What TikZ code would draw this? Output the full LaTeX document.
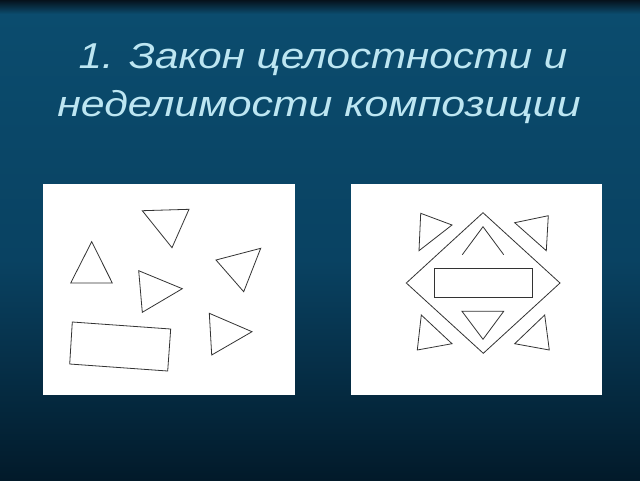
\documentclass[tikz,border=0pt]{standalone}
\usepackage{graphicx}
\usepackage{fontspec}
\setmainfont{Liberation Sans}
\definecolor{bgtop}{HTML}{06121C}
\definecolor{bgmid}{HTML}{0B4C6E}
\definecolor{bglow}{HTML}{094262}
\definecolor{bgbot}{HTML}{021A2A}
\definecolor{titlec}{HTML}{BDE6F2}
\definecolor{linec}{HTML}{333333}
\tikzset{
  titletext/.style={text=titlec, font=\fontsize{36}{40}\selectfont\itshape, anchor=base, inner sep=0pt},
  panel/.style={fill=white, draw=none},
  shp/.style={draw=linec, line width=0.8pt, line join=miter}
}
\begin{document}
\begin{tikzpicture}[x=1pt,y=-1pt]
\useasboundingbox (0,0) rectangle (640,480);
% background
\shade[top color=bgtop, bottom color=bgmid, shading angle=0] (0,0) rectangle (640,14);
\shade[top color=bgmid, bottom color=bglow] (0,14) rectangle (640,260);
\shade[top color=bglow, bottom color=bgbot] (0,260) rectangle (640,480.5);
% title
\node[titletext] (t1) at (323,68) {\scalebox{1.17}[1]{1. Закон целостности и}};
\node[titletext] (t2) at (319,116) {\scalebox{1.19}[1]{неделимости композиции}};
% panels
\fill[panel] (43,184) rectangle (295,395);
\fill[panel] (351,184) rectangle (602,395);
% left panel shapes
\draw[shp] (142.3,210.7) -- (189,209.3) -- (172,247.7) -- cycle;
\draw[shp] (91.7,241.7) -- (70.7,283) -- (112.3,283) -- cycle;
\draw[shp] (138.7,270.7) -- (182.3,288.7) -- (142.3,312.3) -- cycle;
\draw[shp] (216,260) -- (260.7,248.3) -- (243.7,291.7) -- cycle;
\draw[shp] (209.3,313.3) -- (252,331.7) -- (211.7,355) -- cycle;
\draw[shp] (72.3,322) -- (170.7,329) -- (167.7,371) -- (69.7,364) -- cycle;
% right panel shapes
\draw[shp] (483,212.7) -- (560,283) -- (483.3,353.3) -- (406.3,283) -- cycle;
\draw[shp] (462.3,254.7) -- (483,226.7) -- (503.7,254.7);
\draw[shp] (434,268.3) rectangle (532,297.3);
\draw[shp] (462,311.3) -- (503.7,311.3) -- (483,339.3) -- cycle;
\draw[shp] (420.7,213.3) -- (452,225) -- (419,250.7) -- cycle;
\draw[shp] (514.7,222.7) -- (548.3,215.7) -- (546.3,250.7) -- cycle;
\draw[shp] (421.3,315) -- (452,343.7) -- (417.3,350) -- cycle;
\draw[shp] (544.7,315) -- (549.3,350) -- (514.7,343.7) -- cycle;
\end{tikzpicture}
\end{document}
